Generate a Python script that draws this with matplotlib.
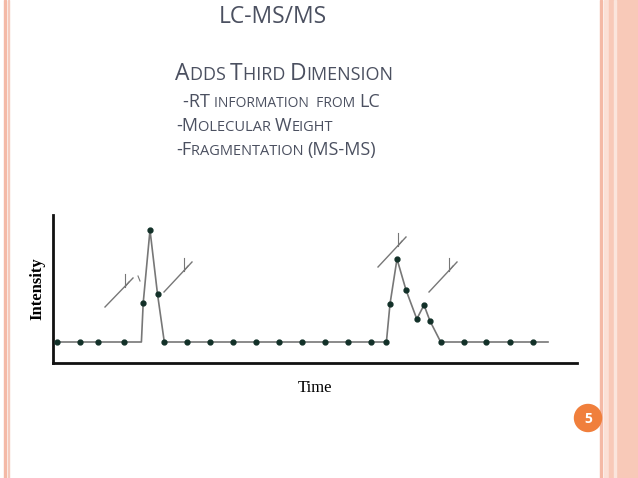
import matplotlib
matplotlib.use("Agg")
import matplotlib.pyplot as plt
from matplotlib.patches import Rectangle, Circle

# data (time, intensity)
time = [57.5, 80, 97.5, 123.6, 141.4, 143.2, 150, 157.5, 164.3, 186.8, 210, 232.9, 256, 279, 302, 325,
        348, 371, 386.4, 390, 397, 406, 416.8, 424, 430, 440.7, 463.6, 486.4, 509.6, 532.5, 548]
intensity = [0, 0, 0, 0, 0, 39, 112, 48, 0, 0, 0, 0, 0, 0, 0, 0,
             0, 0, 0, 38, 83, 52, 23, 37, 21, 0, 0, 0, 0, 0, 0]
has_dot = [1, 1, 1, 1, 0, 1, 1, 1, 1, 1, 1, 1, 1, 1, 1, 1,
           1, 1, 1, 1, 1, 1, 1, 1, 1, 1, 1, 1, 1, 1, 0]
# fragment symbols: (x0, y0, x1, y1) diagonal strokes
frag = [(105, 35, 133, 64), (164, 50, 192, 80), (378, 75, 406, 105), (429, 50, 457, 80)]

W, H = 638, 478
fig = plt.figure(figsize=(W/100, H/100), dpi=100)
fig.patch.set_facecolor("white")

bg = fig.add_axes([0, 0, 1, 1]); bg.set_xlim(0, W); bg.set_ylim(H, 0); bg.axis("off")
bg.add_patch(Rectangle((4, 0), 2, H, color="#f4b9a6"))
bg.add_patch(Rectangle((8, 0), 1, H, color="#f4c9bb"))
bg.add_patch(Rectangle((600, 0), 2, H, color="#f4b9a6"))
bg.add_patch(Rectangle((604, 0), 5, H, color="#fbe0d6"))
bg.add_patch(Rectangle((609, 0), 29, H, color="#f8c9b8"))
bg.add_patch(Rectangle((614, 0), 2, H, color="#fbe5dc"))
bg.add_patch(Circle((588, 418), 13.5, color="#f07f3c"))
bg.text(588, 419, "5", color="white", fontsize=10, ha="center", va="center", family="Open Sans", weight="bold")

tc = "#4b5060"
bg.text(273, 17, "LC-MS/MS", fontsize=16.5, ha="center", va="center", color=tc, family="Open Sans")

r = fig.canvas.get_renderer()
def smallcaps(x, y, parts, big=14, small=10):
    for s, isbig in parts:
        t = bg.text(x, y, s, fontsize=big if isbig else small, color=tc, family="Open Sans", va="baseline")
        x += t.get_window_extent(r).width
smallcaps(175, 80, [("A", 1), ("DDS ", 0), ("T", 1), ("HIRD ", 0), ("D", 1), ("IMENSION", 0)], 16.5, 13)
smallcaps(183, 107, [("-RT ", 1), ("INFORMATION  FROM ", 0), ("LC", 1)], 13, 10)
smallcaps(176, 131, [("-M", 1), ("OLECULAR ", 0), ("W", 1), ("EIGHT", 0)], 13, 10.5)
smallcaps(176, 155, [("-F", 1), ("RAGMENTATION ", 0), ("(MS-MS)", 1)], 13, 10.5)

x0, x1, ytop, ybot = 53.5, 577, 215, 363
ax = fig.add_axes([x0/W, 1-ybot/H, (x1-x0)/W, (ybot-ytop)/H])
ax.set_xlim(x0, x1)
ax.set_ylim(-21, 127)
for s in ["top", "right"]:
    ax.spines[s].set_visible(False)
for s in ["left", "bottom"]:
    ax.spines[s].set_linewidth(2); ax.spines[s].set_color("#111")
ax.set_xticks([]); ax.set_yticks([])
ax.patch.set_alpha(0)
ax.plot(time, intensity, color="#777", lw=1.2, zorder=2)
ax.plot([t for t, d in zip(time, has_dot) if d], [v for v, d in zip(intensity, has_dot) if d],
        "o", color="#123028", ms=3.5, zorder=3)
for a, b, c, d in frag:
    ax.plot([a, c], [b, d], color="#777", lw=1)
    ax.plot([c-8, c-8], [d-9, d+4], color="#777", lw=0.8)
    ax.plot([c-8, c-4], [d-9, d-4], color="#777", lw=0.8)
ax.plot([138, 140], [66, 61], color="#777", lw=0.8)
ax.set_ylabel("Intensity", family="Liberation Serif", fontsize=12, weight="bold", labelpad=6)
ax.set_xlabel("Time", family="Liberation Serif", fontsize=12, labelpad=12)

fig.savefig("out.png", dpi=100)
